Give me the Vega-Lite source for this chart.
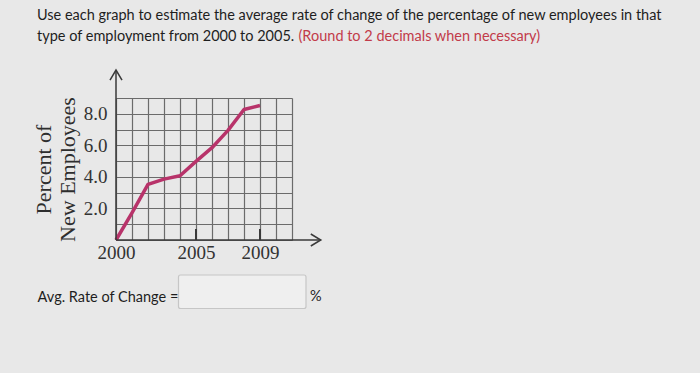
{
  "$schema": "https://vega.github.io/schema/vega-lite/v6.json",
  "width": 176,
  "height": 142,
  "autosize": "none",
  "padding": {"left": 116, "top": 98, "right": 408, "bottom": 133},
  "background": "#e8e8e8",
  "config": {
    "view": {"stroke": null},
    "axis": {
      "grid": true, "gridColor": "#6b6b6b", "gridWidth": 1.2, "gridOpacity": 1,
      "domain": false, "ticks": false,
      "labelFont": "Liberation Serif", "labelFontSize": 19, "labelColor": "#333333",
      "labelOverlap": false, "labelFlush": false
    },
    "axisX": {
      "tickCount": 11,
      "labelExpr": "datum.value == 2000 || datum.value == 2005 || datum.value == 2009 ? format(datum.value, 'd') : ''",
      "labelPadding": 3
    },
    "axisY": {
      "tickCount": 9,
      "labelExpr": "datum.value > 0 && datum.value % 2 == 0 ? format(datum.value, '.1f') : ''",
      "labelPadding": 9,
      "titleFont": "Liberation Serif", "titleFontSize": 22, "titleFontWeight": "normal",
      "titleColor": "#2e2e2e", "titleLineHeight": 24,
      "titleX": -73, "titleY": 71, "titleAngle": -90,
      "titleAlign": "center", "titleBaseline": "middle"
    }
  },
  "datasets": {
    "series": [
      {"year": 2000, "pct": 0},
      {"year": 2001, "pct": 1.72},
      {"year": 2002, "pct": 3.52},
      {"year": 2003, "pct": 3.86},
      {"year": 2004, "pct": 4.07},
      {"year": 2005, "pct": 4.98},
      {"year": 2006, "pct": 5.85},
      {"year": 2007, "pct": 6.95},
      {"year": 2008, "pct": 8.27},
      {"year": 2009, "pct": 8.52}
    ],
    "ticks": [{"year": 2005}, {"year": 2009}]
  },
  "layer": [
    {
      "data": {"name": "series"},
      "mark": {"type": "line", "color": "#b8336a", "strokeWidth": 3.5, "strokeJoin": "round"},
      "encoding": {
        "x": {
          "field": "year", "type": "quantitative", "title": null,
          "scale": {"domain": [2000, 2011], "nice": false, "zero": false}
        },
        "y": {
          "field": "pct", "type": "quantitative", "title": ["Percent of", "New Employees"],
          "scale": {"domain": [0, 9], "nice": false}
        }
      }
    },
    {
      "data": {"values": [{}]},
      "mark": {"type": "rule", "color": "#3a3a3a", "strokeWidth": 1.5},
      "encoding": {"x": {"datum": 2000}, "y": {"datum": 0}, "y2": {"datum": 10.77}}
    },
    {
      "data": {"values": [{}]},
      "mark": {"type": "rule", "color": "#3a3a3a", "strokeWidth": 1.5},
      "encoding": {"x": {"datum": 2000}, "x2": {"datum": 2012.8}, "y": {"datum": 0}}
    },
    {
      "data": {"values": [{}]},
      "mark": {"type": "point", "shape": "M-0.6,1L0,0L0.6,1", "size": 400, "filled": false, "stroke": "#3a3a3a", "strokeWidth": 1.5, "opacity": 1},
      "encoding": {"x": {"datum": 2000}, "y": {"datum": 10.77}}
    },
    {
      "data": {"values": [{}]},
      "mark": {"type": "point", "shape": "M-1,-0.6L0,0L-1,0.6", "size": 400, "filled": false, "stroke": "#3a3a3a", "strokeWidth": 1.5, "opacity": 1},
      "encoding": {"x": {"datum": 2012.8}, "y": {"datum": 0}}
    },
    {
      "data": {"name": "ticks"},
      "mark": {"type": "rule", "color": "#3a3a3a", "strokeWidth": 2},
      "encoding": {"x": {"field": "year", "type": "quantitative"}, "y": {"datum": 0}, "y2": {"datum": 0.7}}
    },
    {
      "data": {"values": [{"t": "Use each graph to estimate the average rate of change of the percentage of new employees in that"}]},
      "mark": {"type": "text", "align": "left", "baseline": "alphabetic", "font": "Lato", "fontSize": 14.5, "color": "#1e1e1e"},
      "encoding": {"x": {"datum": 1995.0625}, "y": {"datum": 13.94}, "text": {"field": "t"}}
    },
    {
      "data": {"values": [{"t": "type of employment from 2000 to 2005."}]},
      "mark": {"type": "text", "align": "left", "baseline": "alphabetic", "font": "Lato", "fontSize": 14.5, "color": "#1e1e1e"},
      "encoding": {"x": {"datum": 1995.0625}, "y": {"datum": 12.61}, "text": {"field": "t"}}
    },
    {
      "data": {"values": [{"t": "(Round to 2 decimals when necessary)"}]},
      "mark": {"type": "text", "align": "left", "baseline": "alphabetic", "font": "Lato", "fontSize": 14.5, "color": "#c23b4a"},
      "encoding": {"x": {"datum": 2011.406}, "y": {"datum": 12.61}, "text": {"field": "t"}}
    },
    {
      "data": {"values": [{"t": "Avg. Rate of Change ="}]},
      "mark": {"type": "text", "align": "left", "baseline": "alphabetic", "font": "Lato", "fontSize": 14.5, "color": "#1e1e1e"},
      "encoding": {"x": {"datum": 1995.1}, "y": {"datum": -3.9}, "text": {"field": "t"}}
    },
    {
      "data": {"values": [{}]},
      "mark": {"type": "rect", "fill": "#efefef", "stroke": "#c6c6c6", "strokeWidth": 1.2, "cornerRadius": 2},
      "encoding": {"x": {"datum": 2003.906}, "x2": {"datum": 2011.875}, "y": {"datum": -2.218}, "y2": {"datum": -4.341}}
    },
    {
      "data": {"values": [{"t": "%"}]},
      "mark": {"type": "text", "align": "left", "baseline": "alphabetic", "font": "Lato", "fontSize": 14.5, "color": "#1e1e1e"},
      "encoding": {"x": {"datum": 2012.125}, "y": {"datum": -3.87}, "text": {"field": "t"}}
    }
  ]
}
